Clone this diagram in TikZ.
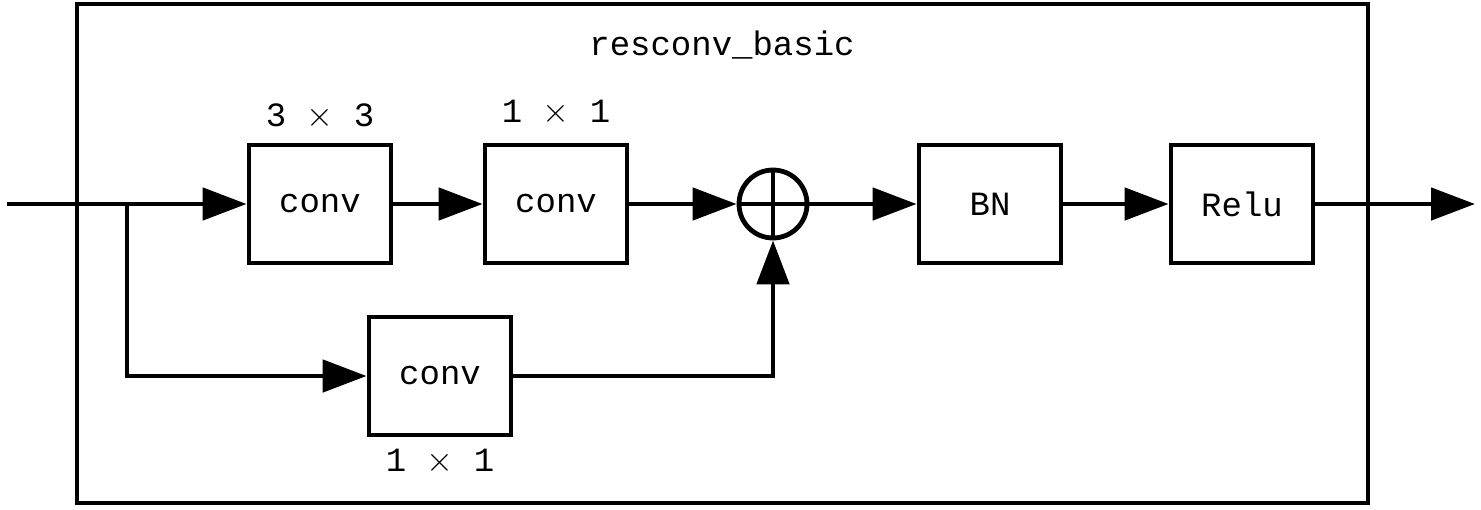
\documentclass[tikz,border=0pt]{standalone}
\usepackage{fontspec}
\setmainfont{Liberation Mono}
\usetikzlibrary{arrows.meta}
\begin{document}
\begin{tikzpicture}[x=0.5pt,y=-0.5pt,
  lw/.style={line width=2.4pt},
  box/.style={lw,draw,minimum width=71pt,minimum height=59pt,inner sep=0pt,font=\fontsize{17}{20}\selectfont},
  arr/.style={lw,-{Triangle[length=22pt,width=16pt]}},
  lab/.style={font=\fontsize{17}{20}\selectfont}]
\useasboundingbox (0,0) rectangle (1481,509);
\draw[lw] (77,4) rectangle (1368,503);
\node[lab] (title) at (722,45) {resconv\_basic};
\node[box] (c1) at (320,204) {conv};
\node[box] (c2) at (556,204) {conv};
\node[box] (bn) at (990,204) {BN};
\node[box] (relu) at (1242,204) {Relu};
\node[box] (c3) at (440,376) {conv};
\node[lw,draw,circle,minimum size=34pt,inner sep=0pt] (sum) at (773,204) {};
\draw[lw] (sum.north)--(sum.south) (sum.west)--(sum.east);
\node[lab] (l1) at (320,117) {3 $\times$ 3};
\node[lab] (l2) at (556,113) {1 $\times$ 1};
\node[lab] (l3) at (440,462) {1 $\times$ 1};
\coordinate (in) at (7,204);
\coordinate (j) at (127,204);
\coordinate (out) at (1475,204);
\draw[lw] (in)--(j);
\draw[arr] (j)--(c1);
\draw[arr] (c1)--(c2);
\draw[arr] (c2)--(sum);
\draw[arr] (sum)--(bn);
\draw[arr] (bn)--(relu);
\draw[arr] (relu)--(out);
\draw[arr] (j)|-(c3);
\draw[arr] (c3.east)-|(sum.south);
\end{tikzpicture}
\end{document}
